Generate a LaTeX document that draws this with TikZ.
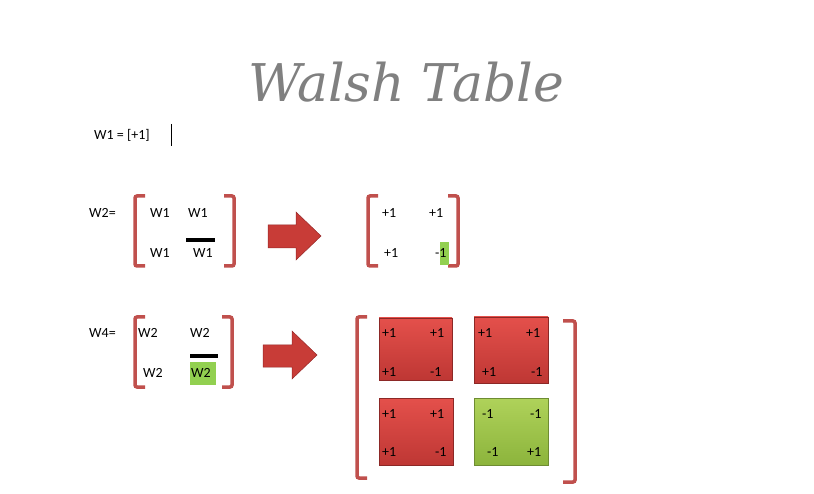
\documentclass[tikz,border=0pt]{standalone}
\usepackage{fontspec}
\setmainfont{Carlito}
\newfontfamily\titlefont{DejaVu Serif}
\definecolor{brkred}{RGB}{192,80,77}
\definecolor{arrfill}{RGB}{200,60,55}
\definecolor{arrdraw}{RGB}{150,40,40}
\definecolor{rbdraw}{RGB}{140,40,38}
\definecolor{rbtop}{RGB}{228,80,75}
\definecolor{rbbot}{RGB}{190,55,52}
\definecolor{gbdraw}{RGB}{110,140,50}
\definecolor{gbtop}{RGB}{175,210,90}
\definecolor{gbbot}{RGB}{140,180,60}
\definecolor{hl}{RGB}{146,208,80}
\definecolor{titlegray}{RGB}{128,128,128}
\begin{document}
\begin{tikzpicture}[x=1pt,y=-1pt,
  txt/.style={font=\fontsize{14}{16}\selectfont,inner sep=0pt,anchor=west},
  brk/.style={draw=brkred,line width=3.5pt,rounded corners=2pt},
  arr/.style={fill=arrfill,draw=arrdraw,line width=0.5pt},
  redbox/.style={draw=rbdraw,line width=0.6pt,top color=rbtop,bottom color=rbbot},
  greenbox/.style={draw=gbdraw,line width=0.6pt,top color=gbtop,bottom color=gbbot},
  bar/.style={line width=3.5pt}]
\useasboundingbox (0,0) rectangle (814,494);
\node[font=\titlefont\itshape\fontsize{52}{56}\selectfont,text=titlegray] (title) at (406,82) {Walsh Table};
\node[txt] (w1) at (94,135) {W1 = [+1]};
\draw[line width=1pt] (171,124) -- (171,146);
% W2
\node[txt] (w2) at (89,213) {W2=};
\draw[brk] (145,196) -- (135,196) -- (135,266) -- (145,266);
\draw[brk] (224,196) -- (234,196) -- (234,266) -- (224,266);
\node[txt] (a11) at (150,213) {W1};
\node[txt] (a12) at (188,213) {W1};
\node[txt] (a21) at (150,253) {W1};
\node[txt] (a22) at (193,253) {W1};
\draw[bar] (186,240) -- (215,240);
\draw[arr] (268,225) -- (296,225) -- (296,212) -- (321,236) -- (296,260) -- (296,248) -- (268,248) -- cycle;
\draw[brk] (378,196) -- (368,196) -- (368,266) -- (378,266);
\draw[brk] (448,196) -- (458,196) -- (458,266) -- (448,266);
\fill[hl] (440,242) rectangle (449,265);
\node[txt] (b11) at (382,213) {+1};
\node[txt] (b12) at (429,213) {+1};
\node[txt] (b21) at (384,253) {+1};
\node[txt] (b22) at (435,253) {-1};
% W4
\node[txt] (w4) at (89,333) {W4=};
\draw[brk] (145,317) -- (135,317) -- (135,387) -- (145,387);
\draw[brk] (222,317) -- (232,317) -- (232,387) -- (222,387);
\fill[hl] (190,362) rectangle (216,385);
\node[txt] (c11) at (138,333) {W2};
\node[txt] (c12) at (190,333) {W2};
\node[txt] (c21) at (143,373) {W2};
\node[txt] (c22) at (191,373) {W2};
\draw[bar] (190,356) -- (218,356);
\draw[arr] (263,345) -- (292,345) -- (292,331) -- (317,355) -- (292,379) -- (292,367) -- (263,367) -- cycle;
\draw[brk] (367,317) -- (357,317) -- (357,478) -- (367,478);
\draw[brk] (563,321) -- (575,321) -- (575,482) -- (563,482);
\draw[redbox] (379,318) rectangle (452,380);
\draw[redbox] (474,317) rectangle (548,383);
\draw[redbox] (379,398) rectangle (453,465);
\draw[greenbox] (474,398) rectangle (548,465);
\node[txt] at (382,333) {+1}; \node[txt] at (430,333) {+1};
\node[txt] at (382,372) {+1}; \node[txt] at (430,372) {-1};
\node[txt] at (478,333) {+1}; \node[txt] at (526,333) {+1};
\node[txt] at (482,372) {+1}; \node[txt] at (531,372) {-1};
\node[txt] at (382,414) {+1}; \node[txt] at (430,414) {+1};
\node[txt] at (382,452) {+1}; \node[txt] at (435,452) {-1};
\node[txt] at (482,414) {-1}; \node[txt] at (530,414) {-1};
\node[txt] at (487,452) {-1}; \node[txt] at (527,452) {+1};
\end{tikzpicture}
\end{document}
